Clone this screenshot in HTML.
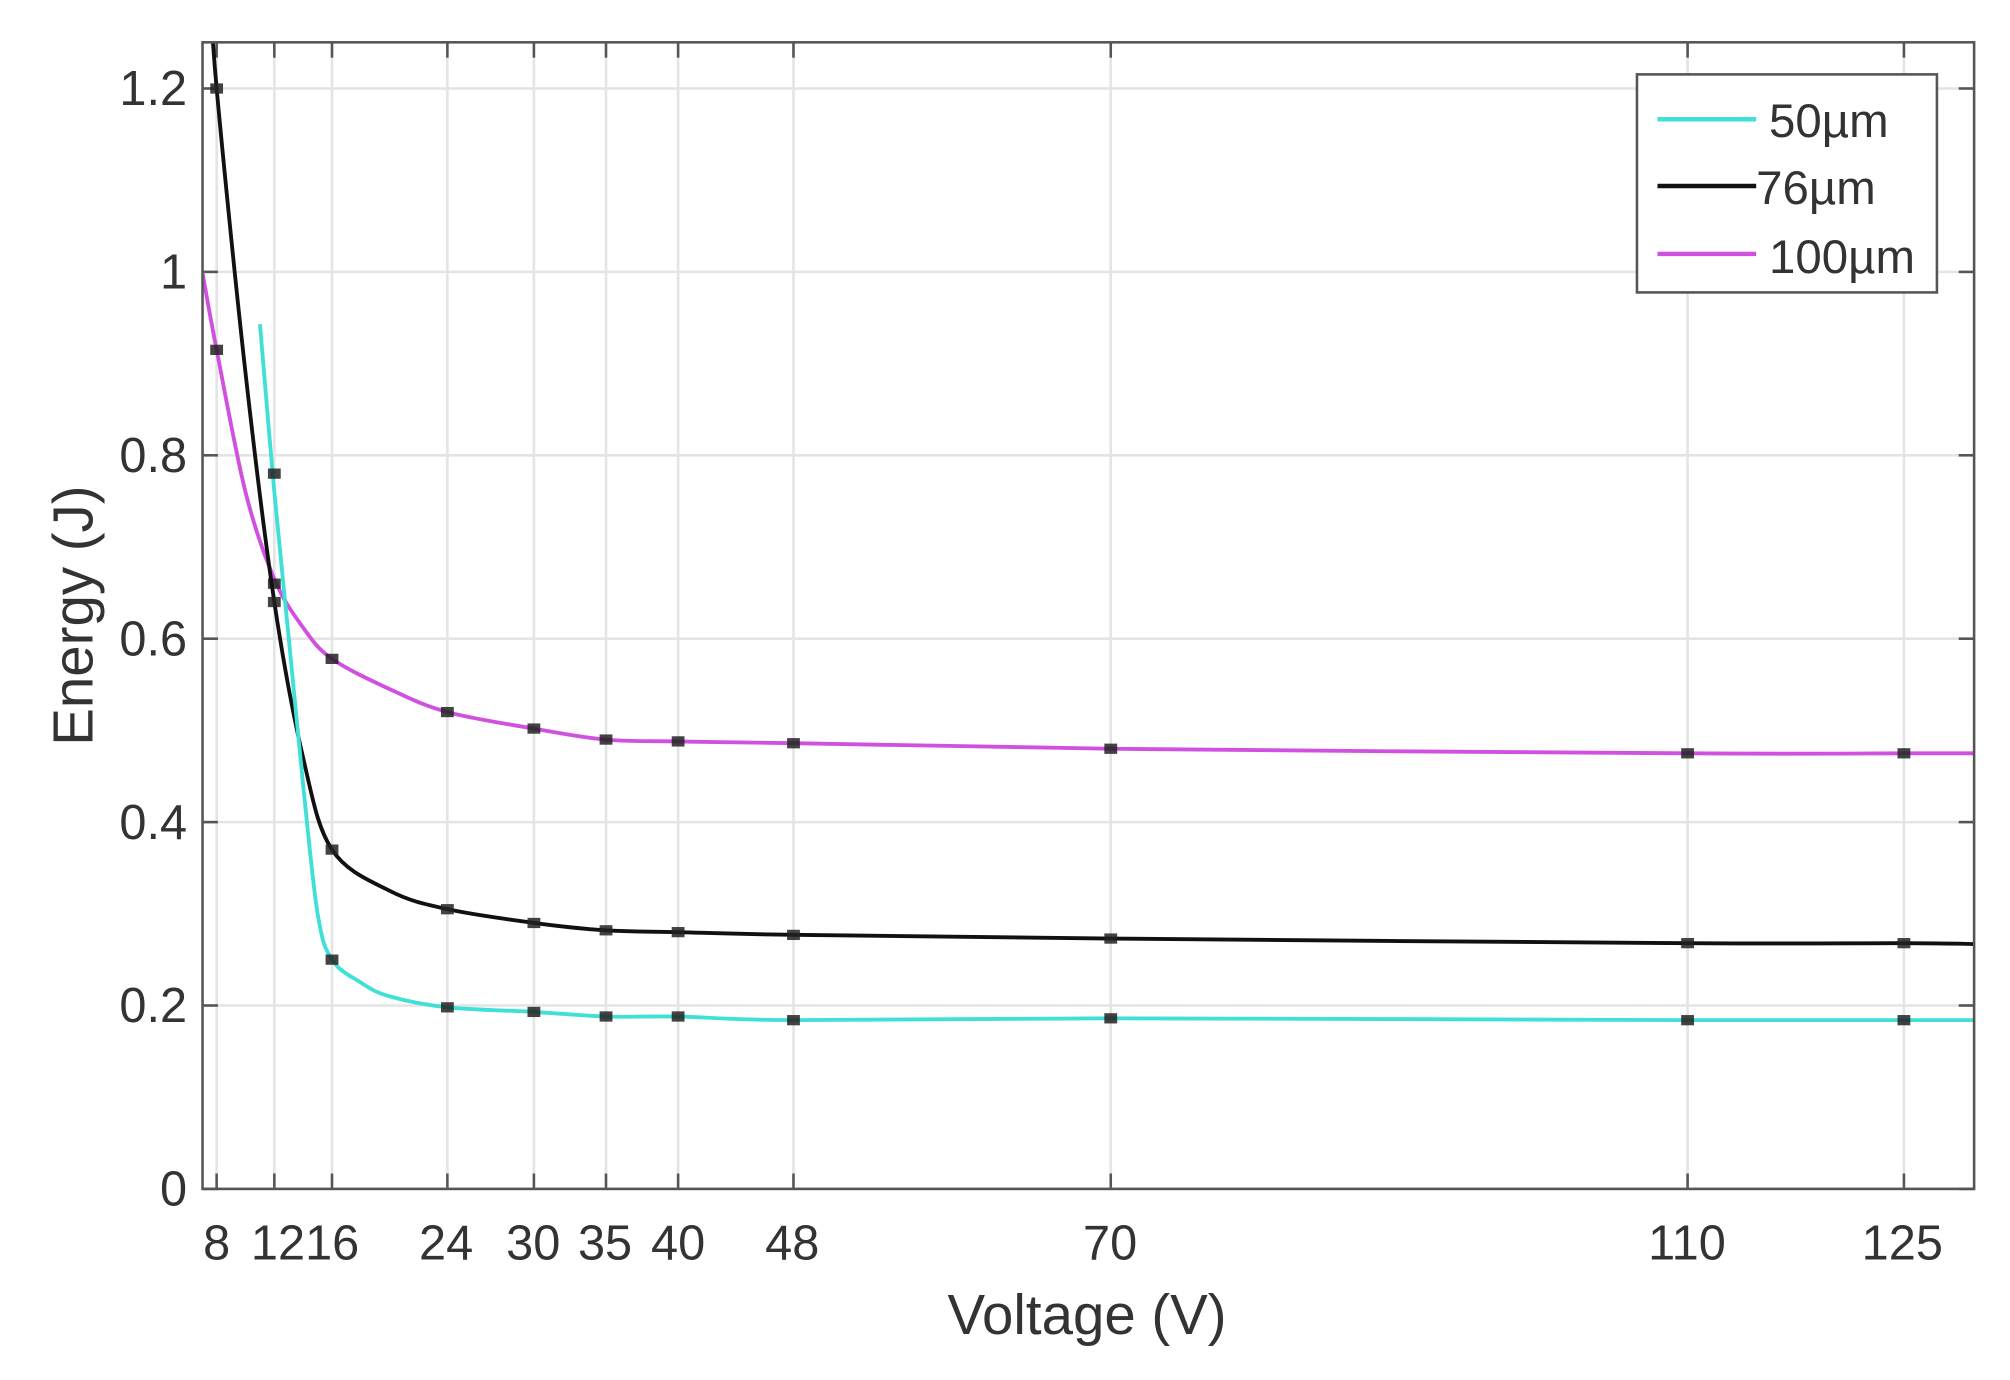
<!DOCTYPE html>
<html><head><meta charset="utf-8"><style>
html,body{margin:0;padding:0;background:#fff;}
svg{display:block}
text{font-family:"Liberation Sans",sans-serif;fill:#333}
</style></head><body>
<svg id="s" width="2010" height="1380" viewBox="0 0 1568 1076" preserveAspectRatio="none" xmlns="http://www.w3.org/2000/svg">
<defs><clipPath id="cp"><rect x="158" y="33" width="1382" height="894"/></clipPath></defs>
<rect x="0" y="0" width="1568" height="1076" fill="#fff"/>
<g id="grid"></g>
<g id="curves" clip-path="url(#cp)"></g>
<rect x="158" y="33" width="1382" height="894" fill="none" stroke="#555" stroke-width="2"/>
<g id="labels" font-size="38"></g>
<text x="848" y="1040" font-size="44" text-anchor="middle">Voltage (V)</text>
<text transform="translate(72,480) rotate(-90)" font-size="44" text-anchor="middle">Energy (J)</text>
<g>
<rect x="1277" y="58" width="234" height="170" fill="#fff" stroke="#555" stroke-width="2"/>
<line x1="1293" y1="93" x2="1370" y2="93" stroke="#40e0d8" stroke-width="3.5"/>
<line x1="1293" y1="145" x2="1370" y2="145" stroke="#111" stroke-width="3.5"/>
<line x1="1293" y1="198" x2="1370" y2="198" stroke="#d050e0" stroke-width="3.5"/>
<text x="1380" y="107" font-size="37">50µm</text>
<text x="1370" y="159" font-size="37">76µm</text>
<text x="1380" y="213" font-size="37">100µm</text>
</g>
</svg>
<script>
const X=v=>169+(v-8)*11.25, Y=e=>927-e*715;
const NS="http://www.w3.org/2000/svg";
function el(p,t,a,txt){const e=document.createElementNS(NS,t);for(const k in a)e.setAttribute(k,a[k]);if(txt!==undefined)e.textContent=txt;document.getElementById(p).appendChild(e);return e;}
const xt=[8,12,16,24,30,35,40,48,70,110,125];
xt.forEach(v=>{el("grid","line",{x1:X(v),x2:X(v),y1:33,y2:927,stroke:"#e4e4e4","stroke-width":2});
 el("grid","line",{x1:X(v),x2:X(v),y1:927,y2:915,stroke:"#555","stroke-width":2});
 el("grid","line",{x1:X(v),x2:X(v),y1:33,y2:45,stroke:"#555","stroke-width":2});});
const xl={8:169,1216:238,24:348,30:416,35:472,40:529,48:618,70:866,110:1316,125:1484};
for(const v in xl) el("labels","text",{x:xl[v],y:982,"text-anchor":"middle"},v);
[0,0.2,0.4,0.6,0.8,1,1.2].forEach(e=>{el("grid","line",{x1:158,x2:1540,y1:Y(e),y2:Y(e),stroke:"#e4e4e4","stroke-width":2});
 el("grid","line",{x1:158,x2:170,y1:Y(e),y2:Y(e),stroke:"#555","stroke-width":2});
 el("grid","line",{x1:1528,x2:1540,y1:Y(e),y2:Y(e),stroke:"#555","stroke-width":2});
 el("labels","text",{x:146,y:Y(e)+13,"text-anchor":"end"},e===0?"0":(e===1?"1":e.toFixed(1)));});
function path(pts){let d="M"+pts[0][0]+","+pts[0][1];
 for(let i=0;i<pts.length-1;i++){const p0=pts[Math.max(0,i-1)],p1=pts[i],p2=pts[i+1],p3=pts[Math.min(pts.length-1,i+2)];
 const c1=[p1[0]+(p2[0]-p0[0])/6,p1[1]+(p2[1]-p0[1])/6],c2=[p2[0]-(p3[0]-p1[0])/6,p2[1]-(p3[1]-p1[1])/6];
 d+=" C"+c1+" "+c2+" "+p2;}return d;}
const series=[
 {c:"#d050e0",pts:[[7,1.0],[8,0.915],[10,0.76],[12,0.665],[14,0.612],[16,0.578],[20,0.545],[24,0.52],[30,0.502],[35,0.49],[40,0.488],[48,0.486],[70,0.48],[110,0.475],[125,0.475],[130,0.475]],m:[8,12,16,24,30,35,40,48,70,110,125],mv:{12:0.66}},
 {c:"#111",pts:[[7.5,1.32],[8,1.2],[10,0.89],[12,0.64],[14,0.47],[16,0.37],[20,0.325],[24,0.305],[30,0.29],[35,0.282],[40,0.28],[48,0.277],[70,0.273],[110,0.268],[125,0.268],[130,0.267]],m:[8,12,16,24,30,35,40,48,70,110,125]},
 {c:"#40e0d8",pts:[[11,0.943],[12,0.76],[13,0.6],[14,0.44],[15,0.3],[16,0.25],[18,0.225],[20,0.21],[24,0.198],[30,0.193],[35,0.188],[40,0.188],[48,0.184],[70,0.186],[110,0.184],[125,0.184],[130,0.184]],m:[16,24,30,35,40,48,70,110,125],extra:[[12,0.78]]}
];
series.forEach(s=>{const P=s.pts.map(p=>[X(p[0]).toFixed(1),Y(p[1]).toFixed(1)].map(Number));
 el("curves","path",{d:path(P),fill:"none",stroke:s.c,"stroke-width":3});
 const mk=s.pts.filter(p=>s.m.includes(p[0])).map(p=>[p[0],(s.mv&&s.mv[p[0]])||p[1]]).concat(s.extra||[]);
 mk.forEach(p=>el("curves","rect",{x:X(p[0])-5,y:Y(p[1])-4,width:10,height:8,fill:"#222",opacity:0.85}));});
</script>
</body></html>
